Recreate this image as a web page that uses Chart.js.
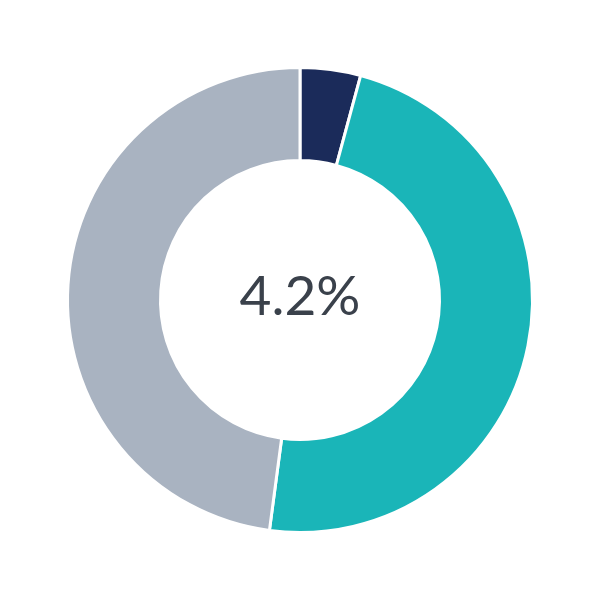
<!DOCTYPE html>
<html>
<head>
<meta charset="utf-8">
<script src="https://cdn.jsdelivr.net/npm/chart.js@4/dist/chart.umd.min.js"></script>
<style>
html,body{margin:0;padding:0;background:#fff;}
#wrap{position:relative;width:600px;height:600px;}
#center{position:absolute;left:0;top:-6px;width:600px;height:600px;display:flex;align-items:center;justify-content:center;font-family:Lato,sans-serif;font-size:55px;color:#3a414b;pointer-events:none;}
</style>
</head>
<body>
<div id="wrap"><canvas id="c" width="600" height="600"></canvas><div id="center"></div></div>
<script>
const labels = ["Segment A", "Segment B", "Segment C"];
const values = [4.2, 47.9, 47.9];
const centerLabel = "4.2%";
const colors = ["#1b2b5a", "#1ab5b8", "#a9b3c1"];

document.getElementById('center').textContent = centerLabel;
new Chart(document.getElementById('c'), {
  type: 'doughnut',
  data: { labels: labels, datasets: [{ data: values, backgroundColor: colors, borderColor: '#ffffff', borderWidth: 3 }] },
  options: {
    responsive: false,
    animation: false,
    cutout: '60%',
    layout: { padding: 66 },
    plugins: { legend: { display: false }, tooltip: { enabled: false } }
  }
});
</script>
</body>
</html>
